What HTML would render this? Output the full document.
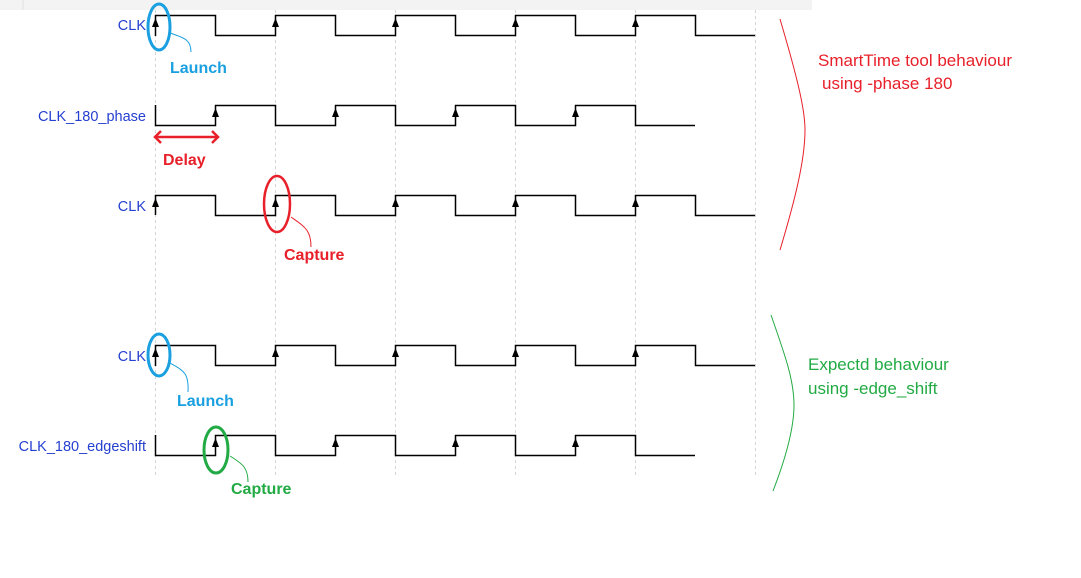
<!DOCTYPE html>
<html><head><meta charset="utf-8"><style>
html,body{margin:0;padding:0;background:#fff;}
svg{display:block;}
.lbl{font-family:"Liberation Sans",sans-serif;font-size:14.5px;fill:#2540d0;}
.b{font-family:"Liberation Sans",sans-serif;font-weight:bold;font-size:16px;}
.t{font-family:"Liberation Sans",sans-serif;font-size:17px;}
</style></head><body>
<svg width="1081" height="578" viewBox="0 0 1081 578" xmlns="http://www.w3.org/2000/svg">
<rect x="0" y="0" width="812" height="10" fill="#f3f3f3"/>
<line x1="23" y1="0" x2="23" y2="10" stroke="#e0e0e0"/>
<g stroke="#d4d4d4" stroke-dasharray="3,3" stroke-width="1">
<line x1="155.5" y1="10" x2="155.5" y2="476"/>
<line x1="275.5" y1="10" x2="275.5" y2="476"/>
<line x1="395.5" y1="10" x2="395.5" y2="476"/>
<line x1="515.5" y1="10" x2="515.5" y2="476"/>
<line x1="635.5" y1="10" x2="635.5" y2="476"/>
<line x1="755.5" y1="10" x2="755.5" y2="476"/>
</g>
<g fill="none" stroke="#000" stroke-width="1.5">
<path d="M155.5,36 V15.5 H215.5 V35.5 H275.5 V15.5 H335.5 V35.5 H395.5 V15.5 H455.5 V35.5 H515.5 V15.5 H575.5 V35.5 H635.5 V15.5 H695.5 V35.5 H755"/>
<path d="M155.5,105 V125.5 H215.5 V105.5 H275.5 V125.5 H335.5 V105.5 H395.5 V125.5 H455.5 V105.5 H515.5 V125.5 H575.5 V105.5 H635.5 V125.5 H695"/>
<path d="M155.5,215 V195.5 H215.5 V215.5 H275.5 V195.5 H335.5 V215.5 H395.5 V195.5 H455.5 V215.5 H515.5 V195.5 H575.5 V215.5 H635.5 V195.5 H695.5 V215.5 H755"/>
<path d="M155.5,366 V345.5 H215.5 V365.5 H275.5 V345.5 H335.5 V365.5 H395.5 V345.5 H455.5 V365.5 H515.5 V345.5 H575.5 V365.5 H635.5 V345.5 H695.5 V365.5 H755"/>
<path d="M155.5,435 V455.5 H215.5 V435.5 H275.5 V455.5 H335.5 V435.5 H395.5 V455.5 H455.5 V435.5 H515.5 V455.5 H575.5 V435.5 H635.5 V455.5 H695"/>
</g>
<g fill="#000">
<path d="M155.5,18 l-3.5,9 h7z"/><path d="M275.5,18 l-3.5,9 h7z"/><path d="M395.5,18 l-3.5,9 h7z"/><path d="M515.5,18 l-3.5,9 h7z"/><path d="M635.5,18 l-3.5,9 h7z"/>
<path d="M215.5,108 l-3.5,9 h7z"/><path d="M335.5,108 l-3.5,9 h7z"/><path d="M455.5,108 l-3.5,9 h7z"/><path d="M575.5,108 l-3.5,9 h7z"/>
<path d="M155.5,198 l-3.5,9 h7z"/><path d="M275.5,198 l-3.5,9 h7z"/><path d="M395.5,198 l-3.5,9 h7z"/><path d="M515.5,198 l-3.5,9 h7z"/><path d="M635.5,198 l-3.5,9 h7z"/>
<path d="M155.5,348 l-3.5,9 h7z"/><path d="M275.5,348 l-3.5,9 h7z"/><path d="M395.5,348 l-3.5,9 h7z"/><path d="M515.5,348 l-3.5,9 h7z"/><path d="M635.5,348 l-3.5,9 h7z"/>
<path d="M215.5,438 l-3.5,9 h7z"/><path d="M335.5,438 l-3.5,9 h7z"/><path d="M455.5,438 l-3.5,9 h7z"/><path d="M575.5,438 l-3.5,9 h7z"/>
</g>
<text class="lbl" x="146" y="30" text-anchor="end">CLK</text>
<text class="lbl" x="146" y="121" text-anchor="end">CLK_180_phase</text>
<text class="lbl" x="146" y="211" text-anchor="end">CLK</text>
<text class="lbl" x="146" y="361" text-anchor="end">CLK</text>
<text class="lbl" x="146" y="451" text-anchor="end">CLK_180_edgeshift</text>
<ellipse cx="159" cy="27" rx="11" ry="23" fill="none" stroke="#1aa0e0" stroke-width="3"/>
<path d="M170,33 C185,38 191,40 191,52" fill="none" stroke="#1aa0e0" stroke-width="1"/>
<text class="b" x="170" y="73" fill="#1aa0e0">Launch</text>
<g stroke="#e8202a" stroke-width="2.5" fill="none">
<line x1="155" y1="137" x2="218" y2="137"/>
<path d="M161,131 l-6,6 l6,6"/><path d="M212,131 l6,6 l-6,6"/>
</g>
<text class="b" x="163" y="165" fill="#e8202a">Delay</text>
<ellipse cx="277" cy="204" rx="13" ry="28" fill="none" stroke="#e8202a" stroke-width="2.5"/>
<path d="M291,217 C305,227 311,230 311,247" fill="none" stroke="#e8202a" stroke-width="1"/>
<text class="b" x="284" y="260" fill="#e8202a">Capture</text>
<ellipse cx="159" cy="355" rx="11" ry="21" fill="none" stroke="#1aa0e0" stroke-width="3"/>
<path d="M170,363 C184,371 189,373 188,392" fill="none" stroke="#1aa0e0" stroke-width="1"/>
<text class="b" x="177" y="406" fill="#1aa0e0">Launch</text>
<ellipse cx="216" cy="450" rx="12" ry="23" fill="none" stroke="#22aa44" stroke-width="3"/>
<path d="M230,456 C243,464 248,468 248,482" fill="none" stroke="#22aa44" stroke-width="1"/>
<text class="b" x="231" y="494" fill="#22aa44">Capture</text>
<path d="M780,19 C798,80 805,110 805,130 C805,160 795,200 780,250" fill="none" stroke="#e8202a" stroke-width="1"/>
<text class="t" x="818" y="66" fill="#e8202a">SmartTime tool behaviour</text>
<text class="t" x="822" y="89" fill="#e8202a">using -phase 180</text>
<path d="M771,315 C785,355 794,380 794,405 C794,430 785,460 773,491" fill="none" stroke="#22aa44" stroke-width="1"/>
<text class="t" x="808" y="370" fill="#22aa44">Expectd behaviour</text>
<text class="t" x="808" y="394" fill="#22aa44">using -edge_shift</text>
</svg>
</body></html>
